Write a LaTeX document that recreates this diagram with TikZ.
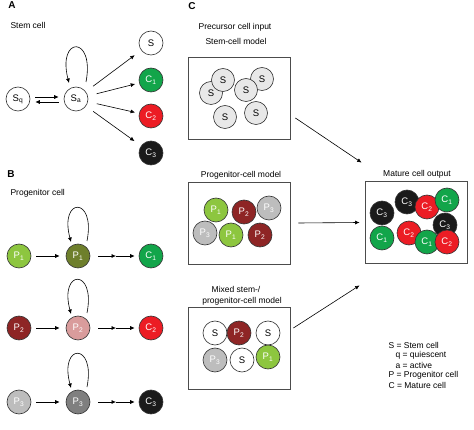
\documentclass[tikz,border=0pt]{standalone}
\usepackage{fontspec}
\setmainfont{Liberation Sans}
\usetikzlibrary{arrows.meta}
\definecolor{cgreen}{HTML}{12A54A}
\definecolor{cred}{HTML}{EC1C24}
\definecolor{cblack}{HTML}{1A1A1A}
\definecolor{plgreen}{HTML}{8DC63F}
\definecolor{pdgreen}{HTML}{6E7F2C}
\definecolor{pdred}{HTML}{8E2525}
\definecolor{plred}{HTML}{D99C9C}
\definecolor{plgray}{HTML}{BDBDBD}
\definecolor{pmgray}{HTML}{7F7F7F}
\definecolor{sgray}{HTML}{E8E8E8}
\begin{document}
\begin{tikzpicture}[x=1pt,y=-1pt,
  cell/.style={circle,draw=black!80,line width=0.6pt,minimum size=24pt,inner sep=0pt,font=\fontsize{9.5}{10}\selectfont},
  wcell/.style={cell,fill=white},
  gcell/.style={cell,fill=sgray},
  colcell/.style={cell,fill=#1,text=white},
  arr/.style={-{Latex[length=4.5pt,width=4pt]},line width=0.6pt},
  lbl/.style={font=\fontsize{8.5}{10}\selectfont},
  panel/.style={font=\bfseries\fontsize{10}{10}\selectfont},
  boxn/.style={draw=black!70,line width=0.8pt,minimum width=102pt,minimum height=82pt,inner sep=0pt}
]
\useasboundingbox[fill=white] (0,0) rectangle (474,430);

% ---------- Panel A ----------
\node[panel] (lA) at (12,5) {A};
\node[lbl,anchor=west] (tA) at (7,25) {Stem cell};
\node[wcell] (Sq) at (18,99) {S\textsubscript{q}};
\node[wcell] (Sa) at (76,99) {S\textsubscript{a}};
\node[wcell] (S0) at (151,43) {S};
\node[colcell=cgreen] (CA1) at (151,80) {C\textsubscript{1}};
\node[colcell=cred] (CA2) at (151,116) {C\textsubscript{2}};
\node[colcell=cblack] (CA3) at (151,153) {C\textsubscript{3}};
\draw[arr] ([xshift=5pt,yshift=2pt]Sq.east) -- ([xshift=-5pt,yshift=2pt]Sa.west);
\draw[arr] ([xshift=-5pt,yshift=-3pt]Sa.west) -- ([xshift=5pt,yshift=-3pt]Sq.east);
\draw[arr] ([xshift=10pt,yshift=17pt]Sa.center) .. controls +(9,-47) and +(-12,-47) .. ([xshift=-7pt,yshift=16pt]Sa.center);
\draw[arr,shorten <=9pt,shorten >=8pt] (Sa) -- (S0);
\draw[arr,shorten <=9pt,shorten >=4pt] (Sa) -- (CA1);
\draw[arr,shorten <=9pt,shorten >=4pt] (Sa) -- (CA2);
\draw[arr,shorten <=9pt,shorten >=8pt] (Sa) -- (CA3);

% ---------- Panel B ----------
\node[panel] (lB) at (11,174) {B};
\node[lbl,anchor=west] (tB) at (7,193) {Progenitor cell};
% row 1
\node[colcell=plgreen] (P1a) at (19,256) {P\textsubscript{1}};
\node[colcell=pdgreen] (P1b) at (78,256) {P\textsubscript{1}};
\node[colcell=cgreen] (CB1) at (151,256) {C\textsubscript{1}};
\coordinate (m1) at (116,256);
% row 2
\node[colcell=pdred] (P2a) at (19,328) {P\textsubscript{2}};
\node[colcell=plred] (P2b) at (78,328) {P\textsubscript{2}};
\node[colcell=cred] (CB2) at (151,328) {C\textsubscript{2}};
\coordinate (m2) at (116,328);
% row 3
\node[colcell=plgray] (P3a) at (19,402) {P\textsubscript{3}};
\node[colcell=pmgray] (P3b) at (78,402) {P\textsubscript{3}};
\node[colcell=cblack] (CB3) at (151,402) {C\textsubscript{3}};
\coordinate (m3) at (116,402);
\foreach \a/\b/\c/\m in {P1a/P1b/CB1/m1,P2a/P2b/CB2/m2,P3a/P3b/CB3/m3}{
  \draw[arr,shorten <=5pt,shorten >=6pt] (\a) -- (\b);
  \draw[arr,shorten <=8pt] (\b) -- (\m);
  \draw[arr,shorten >=4pt] (\m) -- (\c);
  \draw[arr] ([xshift=9pt,yshift=15pt]\b.center) .. controls +(9,-45) and +(-12,-45) .. ([xshift=-7pt,yshift=14pt]\b.center);
}

% ---------- Panel C ----------
\node[panel] (lC) at (192,6) {C};
\node[lbl] (tin) at (235,27) {Precursor cell input};
\node[lbl] (tstem) at (236,41) {Stem-cell model};
\node[boxn] (stem) at (239,98.5) {};
\node[gcell,minimum size=23pt] (s1) at (211,93) {S};
\node[gcell,minimum size=23pt] (s2) at (223,80) {S};
\node[gcell,minimum size=23pt] (s3) at (262,79) {S};
\node[gcell,minimum size=23pt] (s4) at (246,90) {S};
\node[gcell,minimum size=23pt] (s5) at (225,117) {S};
\node[gcell,minimum size=23pt] (s6) at (256,113) {S};

\node[lbl] (tprog) at (241,175) {Progenitor-cell model};
\node[boxn] (prog) at (239.5,223) {};
\node[colcell=plgreen] (q1) at (216,210) {P\textsubscript{1}};
\node[colcell=pdred] (q2) at (244,212) {P\textsubscript{2}};
\node[colcell=plgray] (q3) at (269,208) {P\textsubscript{3}};
\node[colcell=plgray] (q4) at (205,233) {P\textsubscript{3}};
\node[colcell=plgreen] (q5) at (231,235) {P\textsubscript{1}};
\node[colcell=pdred] (q6) at (260,235) {P\textsubscript{2}};

\node[lbl] (tmix1) at (236,289) {Mixed stem-/};
\node[lbl] (tmix2) at (242,301) {progenitor-cell model};
\node[boxn] (mix) at (239,348.5) {};
\node[wcell] (r1) at (215,333) {S};
\node[colcell=pdred] (r2) at (239,333) {P\textsubscript{2}};
\node[wcell] (r3) at (268,333) {S};
\node[colcell=plgray] (r4) at (215,360) {P\textsubscript{3}};
\node[wcell] (r5) at (242,360) {S};
\node[colcell=plgreen] (r6) at (268,357) {P\textsubscript{1}};

\node[lbl] (tout) at (417,174) {Mature cell output};
\node[boxn] (out) at (416,222.5) {};
\node[colcell=cblack] (o1) at (382,213) {C\textsubscript{3}};
\node[colcell=cblack] (o2) at (407,202) {C\textsubscript{3}};
\node[colcell=cred] (o3) at (427,207) {C\textsubscript{2}};
\node[colcell=cgreen] (o4) at (447,200) {C\textsubscript{1}};
\node[colcell=cblack] (o5) at (445,225) {C\textsubscript{3}};
\node[colcell=cgreen] (o6) at (382,238) {C\textsubscript{1}};
\node[colcell=cred] (o7) at (409,233) {C\textsubscript{2}};
\node[colcell=cgreen] (o8) at (427,242) {C\textsubscript{1}};
\node[colcell=cred] (o9) at (447,242) {C\textsubscript{2}};

\draw[arr] ([xshift=5pt,yshift=-19.5pt]stem.east) -- ([xshift=-3pt,yshift=18.5pt]out.north west);
\draw[arr] ([xshift=7.5pt]prog.east) -- ([xshift=-5pt]out.west);
\draw[arr] ([xshift=3pt,yshift=20.5pt]mix.east) -- ([xshift=-5pt,yshift=-21.5pt]out.south west);

% legend
\node[lbl,anchor=west] (g1) at (385,345) {S = Stem cell};
\node[lbl,anchor=west] (g2) at (392,355) {q = quiescent};
\node[lbl,anchor=west] (g3) at (392,365) {a = active};
\node[lbl,anchor=west] (g4) at (385,375) {P = Progenitor cell};
\node[lbl,anchor=west] (g5) at (385,385) {C = Mature cell};
\end{tikzpicture}
\end{document}
